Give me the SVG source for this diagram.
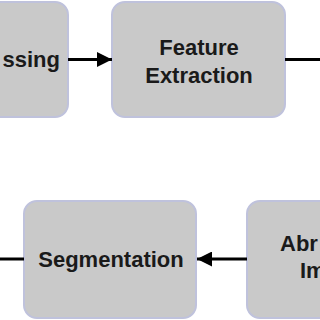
<svg xmlns="http://www.w3.org/2000/svg" width="320" height="320" viewBox="0 0 320 320">
<style>
.box{fill:#c9c9c9;stroke:#bfc2dc;stroke-width:2}
.lbl{font-family:"Liberation Sans",Arial,sans-serif;font-weight:bold;font-size:22px;fill:#1a1a1a}
.con{stroke:#000;stroke-width:3;fill:none}
</style>
<defs>
<marker id="ah" markerWidth="15" markerHeight="15" refX="15" refY="7.5" orient="auto" markerUnits="userSpaceOnUse">
<path d="M0,0 L15,7.5 L0,15 Z" fill="#000"/>
</marker>
</defs>
<rect width="320" height="320" fill="#fff"/>
<g id="node-preprocessing">
<rect class="box" x="-60" y="2" width="128" height="115" rx="13"/>
<text class="lbl" x="60" y="67" text-anchor="end">ssing</text>
</g>
<g id="node-feature-extraction">
<rect class="box" x="112" y="2" width="173" height="115" rx="13"/>
<text class="lbl" x="199" y="55" text-anchor="middle">Feature</text>
<text class="lbl" x="199" y="83" text-anchor="middle">Extraction</text>
</g>
<g id="node-segmentation">
<rect class="box" x="24" y="201" width="172" height="117" rx="13"/>
<text class="lbl" x="111" y="267" text-anchor="middle">Segmentation</text>
</g>
<g id="node-abnormal">
<rect class="box" x="247" y="201" width="140" height="117" rx="13"/>
<text class="lbl" x="280" y="251">Abr</text>
<text class="lbl" x="300" y="278">Im</text>
</g>
<g id="connectors">
<line class="con" x1="68" y1="59.5" x2="112" y2="59.5" marker-end="url(#ah)"/>
<line class="con" x1="285" y1="59.5" x2="320" y2="59.5"/>
<line class="con" x1="0" y1="259" x2="24" y2="259"/>
<line class="con" x1="247" y1="259" x2="197" y2="259" marker-end="url(#ah)"/>
</g>
</svg>
